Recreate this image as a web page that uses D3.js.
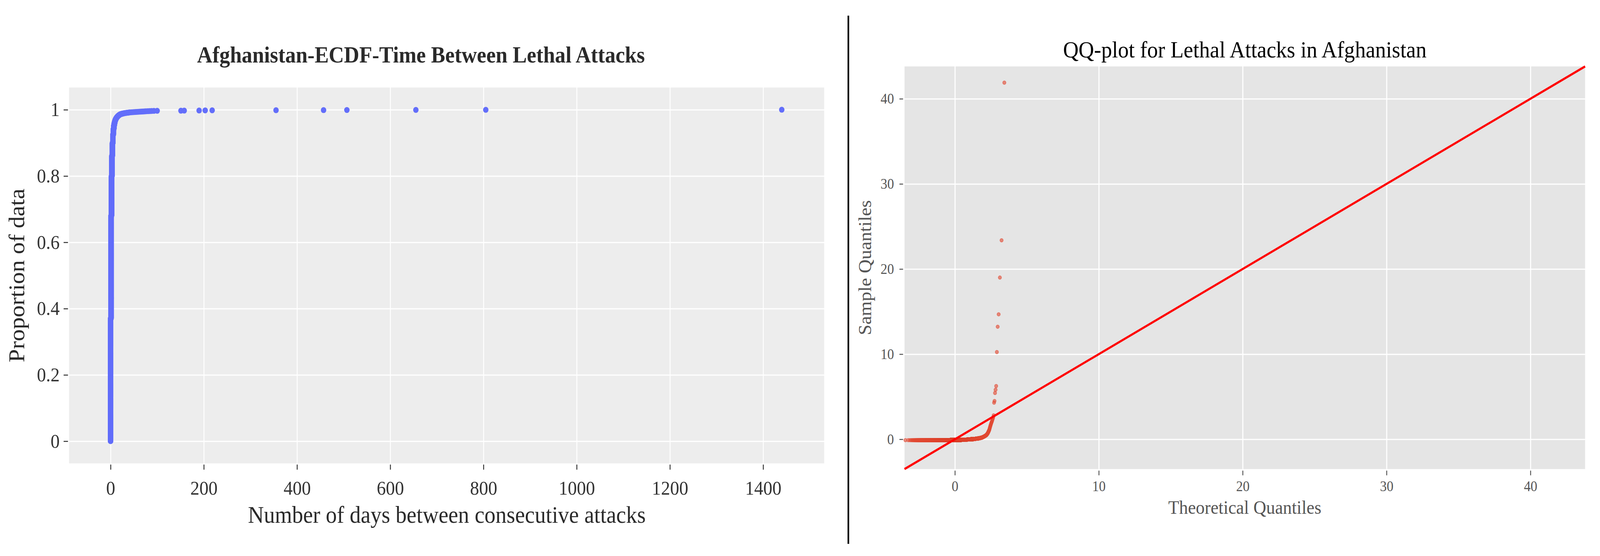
<!DOCTYPE html>
<html>
<head>
<meta charset="utf-8">
<script src="https://cdn.jsdelivr.net/npm/d3@7"></script>
<style>
  html, body { margin: 0; padding: 0; background: #fff; overflow: hidden; }
  svg { display: block; width: 100vw; height: 100vh; }
  text { font-family: "Liberation Serif", "DejaVu Serif", serif; }
</style>
</head>
<body>
<div id="chart"></div>
<script>
'use strict';

// gap between consecutive lethal attacks (days) and how many gaps had that length
var gapDays = [0, 1, 2, 3, 4, 5, 6, 7, 8, 9, 10, 11, 12, 13, 14, 15, 16, 17, 18, 19, 20,
  21, 23, 25, 27, 29, 31, 34, 37, 40, 43, 46, 49, 52, 55, 58, 61, 64, 67, 70, 73, 76,
  80, 84, 88, 93, 100, 151, 158, 190, 203, 218, 355, 457, 507, 655, 805, 1440];
var gapCounts = [1259, 1055, 408, 211, 130, 85, 58, 37, 24, 20, 13, 10, 8, 7, 6, 5, 5, 4, 4, 3, 3,
  3, 3, 3, 2, 2, 2, 2, 2, 2, 1, 1, 1, 1, 1, 1, 1, 1, 1, 1, 1, 1,
  1, 1, 1, 1, 1, 1, 1, 1, 1, 1, 1, 1, 1, 1, 1, 1];

var ecdfXTicks = [0, 200, 400, 600, 800, 1000, 1200, 1400];
var ecdfYTicks = [0, 0.2, 0.4, 0.6, 0.8, 1];
var ecdfXRange = [-89, 1531];
var ecdfYRange = [-0.067, 1.067];
var qqTicks = [0, 10, 20, 30, 40];
var qqRange = [-3.5, 43.8];

var ecdfTitle = 'Afghanistan-ECDF-Time Between Lethal Attacks';
var ecdfXLabel = 'Number of days between consecutive attacks';
var ecdfYLabel = 'Proportion of data';
var qqTitle = 'QQ-plot for Lethal Attacks in Afghanistan';
var qqXLabel = 'Theoretical Quantiles';
var qqYLabel = 'Sample Quantiles';

var width = 4401;
var height = 1423;

// inverse normal cdf (Acklam)
function normInv (p) {
  var a = [-3.969683028665376e+01, 2.209460984245205e+02, -2.759285104469687e+02,
    1.383577518672690e+02, -3.066479806614716e+01, 2.506628277459239e+00];
  var b = [-5.447609879822406e+01, 1.615858368580409e+02, -1.556989798598866e+02,
    6.680131188771972e+01, -1.328068155288572e+01];
  var c = [-7.784894002430293e-03, -3.223964580411365e-01, -2.400758277161838e+00,
    -2.549732539343734e+00, 4.374664141464968e+00, 2.938163982698783e+00];
  var d = [7.784695709041462e-03, 3.224671290700398e-01, 2.445134137142996e+00,
    3.754408661907416e+00];
  var q, r;
  if (p < 0.02425) {
    q = Math.sqrt(-2 * Math.log(p));
    return (((((c[0] * q + c[1]) * q + c[2]) * q + c[3]) * q + c[4]) * q + c[5]) /
      ((((d[0] * q + d[1]) * q + d[2]) * q + d[3]) * q + 1);
  }
  if (p > 1 - 0.02425) {
    return -normInv(1 - p);
  }
  q = p - 0.5;
  r = q * q;
  return (((((a[0] * r + a[1]) * r + a[2]) * r + a[3]) * r + a[4]) * r + a[5]) * q /
    (((((b[0] * r + b[1]) * r + b[2]) * r + b[3]) * r + b[4]) * r + 1);
}

// expand the frequency table into the sorted sample
var sample = [];
gapDays.forEach(function (day, i) {
  for (var k = 0; k < gapCounts[i]; k++) { sample.push(day); }
});
var n = sample.length;
var mean = d3.mean(sample);
var sd = Math.sqrt(d3.mean(sample, function (v) { return (v - mean) * (v - mean); }));

var ecdfPoints = sample.map(function (v, i) { return { x: v, y: (i + 1) / n }; });
var qqPoints = sample.map(function (v, i) {
  return { x: normInv((i + 1) / (n + 1)), y: (v - mean) / sd };
});

// the drawing is laid out on a 4401x1423 grid and stretched to the window
var svg = d3.select('#chart').append('svg')
  .attr('viewBox', '0 0 ' + width + ' ' + height)
  .attr('preserveAspectRatio', 'none');

function fitWidth (sel, target) {
  var w = sel.node().getComputedTextLength();
  sel.attr('font-size', parseFloat(sel.attr('font-size')) * target / w);
}

// ---------- left panel: ECDF ----------
var L = { left: 190, right: 2267, top: 224, bottom: 1186 };
var ex = d3.scaleLinear().domain(ecdfXRange).range([L.left, L.right]);
var ey = d3.scaleLinear().domain(ecdfYRange).range([L.bottom, L.top]);

var left = svg.append('g');
left.append('rect')
  .attr('x', L.left).attr('y', L.top)
  .attr('width', L.right - L.left).attr('height', L.bottom - L.top)
  .attr('fill', '#ededed');

left.append('g').call(d3.axisBottom(ex).tickValues(ecdfXTicks).tickSize(-(L.bottom - L.top)).tickFormat(''))
  .attr('transform', 'translate(0,' + L.bottom + ')')
  .call(function (g) {
    g.select('.domain').remove();
    g.selectAll('line').attr('stroke', '#fff').attr('stroke-width', 2.5);
  });
left.append('g').call(d3.axisLeft(ey).tickValues(ecdfYTicks).tickSize(-(L.right - L.left)).tickFormat(''))
  .attr('transform', 'translate(' + L.left + ',0)')
  .call(function (g) {
    g.select('.domain').remove();
    g.selectAll('line').attr('stroke', '#fff').attr('stroke-width', 3);
  });

left.append('g')
  .attr('transform', 'translate(0,' + (L.bottom + 3) + ')')
  .call(d3.axisBottom(ex).tickValues(ecdfXTicks).tickSize(13).tickPadding(29).tickFormat(d3.format('d')))
  .call(function (g) {
    g.select('.domain').remove();
    g.selectAll('line').attr('stroke', '#333').attr('stroke-width', 2.5);
    g.selectAll('text').attr('font-size', 50).attr('fill', '#333')
      .attr('font-family', '"Liberation Serif", serif');
  });
left.append('g')
  .attr('transform', 'translate(' + (L.left - 3) + ',0)')
  .call(d3.axisLeft(ey).tickValues(ecdfYTicks).tickSize(12).tickPadding(11).tickFormat(d3.format('~g')))
  .call(function (g) {
    g.select('.domain').remove();
    g.selectAll('line').attr('stroke', '#333').attr('stroke-width', 2.5);
    g.selectAll('text').attr('font-size', 50).attr('fill', '#333')
      .attr('font-family', '"Liberation Serif", serif');
  });

left.append('g').selectAll('circle')
  .data(ecdfPoints)
  .enter()
  .append('circle')
  .attr('cx', function (d) { return ex(d.x); })
  .attr('cy', function (d) { return ey(d.y); })
  .attr('r', 7.5)
  .attr('fill', '#636efa');

var t1 = left.append('text').text(ecdfTitle)
  .attr('x', 1158).attr('y', 160).attr('text-anchor', 'middle')
  .attr('font-size', 54).attr('font-weight', 'bold').attr('fill', '#2a2a2a');
fitWidth(t1, 1232);
var t2 = left.append('text').text(ecdfXLabel)
  .attr('x', 1229).attr('y', 1338).attr('text-anchor', 'middle')
  .attr('font-size', 56).attr('fill', '#2a2a2a');
fitWidth(t2, 1094);
var t3 = left.append('text').text(ecdfYLabel)
  .attr('transform', 'translate(67,705) rotate(-90)').attr('text-anchor', 'middle')
  .attr('font-size', 56).attr('fill', '#2a2a2a');
fitWidth(t3, 445);

// separator
svg.append('line')
  .attr('x1', 2333.5).attr('x2', 2333.5).attr('y1', 40).attr('y2', 1392)
  .attr('stroke', '#000').attr('stroke-width', 4.5);

// ---------- right panel: QQ plot ----------
var R = { left: 2488, right: 4360, top: 170, bottom: 1200.5 };
var qx = d3.scaleLinear().domain(qqRange).range([R.left, R.right]);
var qy = d3.scaleLinear().domain(qqRange).range([R.bottom, R.top]);

var right = svg.append('g');
right.append('rect')
  .attr('x', R.left).attr('y', R.top)
  .attr('width', R.right - R.left).attr('height', R.bottom - R.top)
  .attr('fill', '#e5e5e5');

right.append('g').call(d3.axisBottom(qx).tickValues(qqTicks).tickSize(-(R.bottom - R.top)).tickFormat(''))
  .attr('transform', 'translate(0,' + R.bottom + ')')
  .call(function (g) {
    g.select('.domain').remove();
    g.selectAll('line').attr('stroke', '#fff').attr('stroke-width', 3);
  });
right.append('g').call(d3.axisLeft(qy).tickValues(qqTicks).tickSize(-(R.right - R.left)).tickFormat(''))
  .attr('transform', 'translate(' + R.left + ',0)')
  .call(function (g) {
    g.select('.domain').remove();
    g.selectAll('line').attr('stroke', '#fff').attr('stroke-width', 3);
  });

right.append('g')
  .attr('transform', 'translate(0,' + (R.bottom + 4) + ')')
  .call(d3.axisBottom(qx).tickValues(qqTicks).tickSize(12).tickPadding(14).tickFormat(d3.format('d')))
  .call(function (g) {
    g.select('.domain').remove();
    g.selectAll('line').attr('stroke', '#555').attr('stroke-width', 2.5);
    g.selectAll('text').attr('font-size', 37).attr('fill', '#555')
      .attr('font-family', '"Liberation Serif", serif');
  });
right.append('g')
  .attr('transform', 'translate(' + (R.left - 4) + ',0)')
  .call(d3.axisLeft(qy).tickValues(qqTicks).tickSize(10).tickPadding(15).tickFormat(d3.format('d')))
  .call(function (g) {
    g.select('.domain').remove();
    g.selectAll('line').attr('stroke', '#555').attr('stroke-width', 2.5);
    g.selectAll('text').attr('font-size', 37).attr('fill', '#555')
      .attr('font-family', '"Liberation Serif", serif');
  });

right.append('g').selectAll('circle')
  .data(qqPoints)
  .enter()
  .append('circle')
  .attr('cx', function (d) { return qx(d.x); })
  .attr('cy', function (d) { return qy(d.y); })
  .attr('r', 4.5)
  .attr('fill', '#e24a33').attr('fill-opacity', 0.62)
  .attr('stroke', '#e24a33').attr('stroke-opacity', 0.62).attr('stroke-width', 1.5);

right.append('line')
  .attr('x1', qx(qqRange[0])).attr('y1', qy(qqRange[0]))
  .attr('x2', qx(qqRange[1])).attr('y2', qy(qqRange[1]))
  .attr('stroke', '#ff0000').attr('stroke-width', 5.5);

var t4 = right.append('text').text(qqTitle)
  .attr('x', 3424).attr('y', 147).attr('text-anchor', 'middle')
  .attr('font-size', 54).attr('fill', '#000');
fitWidth(t4, 1000);
var t5 = right.append('text').text(qqXLabel)
  .attr('x', 3424).attr('y', 1315).attr('text-anchor', 'middle')
  .attr('font-size', 46).attr('fill', '#555');
fitWidth(t5, 421);
right.append('text').text(qqYLabel)
  .attr('transform', 'translate(2396,685) rotate(-90)').attr('text-anchor', 'middle')
  .attr('font-size', t5.attr('font-size')).attr('fill', '#555');
</script>
</body>
</html>
